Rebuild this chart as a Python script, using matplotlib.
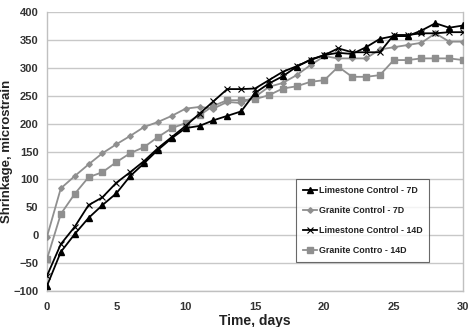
import matplotlib
matplotlib.use("Agg")
import matplotlib.pyplot as plt

days = list(range(0, 31))

limestone_7d = [-91, -30, 2, 31, 54, 75, 106, 129, 153, 174, 192, 196, 206, 214, 222,
                255, 272, 285, 302, 315, 323, 327, 325, 337, 352, 357, 357, 367, 380, 372, 376]
granite_7d = [-3, 84, 106, 127, 147, 163, 178, 194, 203, 214, 227, 230, 227, 239, 237,
              248, 266, 273, 287, 305, 321, 317, 317, 317, 333, 337, 341, 345, 362, 347, 347]
limestone_14d = [-73, -16, 15, 54, 68, 94, 113, 133, 156, 176, 196, 218, 240, 262, 262,
                 263, 278, 293, 303, 314, 323, 335, 328, 328, 328, 359, 359, 362, 362, 364, 364]
granite_14d = [-43, 38, 74, 104, 113, 131, 147, 158, 176, 192, 201, 215, 232, 242, 242,
               244, 251, 263, 267, 275, 278, 302, 284, 284, 287, 314, 314, 317, 317, 317, 314]

labels = ["Limestone Control - 7D", "Granite Control - 7D",
          "Limestone Control - 14D", "Granite Contro - 14D"]

plt.rcParams['font.family'] = ['Liberation Sans', 'DejaVu Sans']

fig = plt.figure(figsize=(4.74, 3.27), dpi=100)
ax = fig.add_axes([0.099, 0.110, 0.878, 0.853])

gray = '#8f8f8f'
ax.plot(days, limestone_7d, color='black', lw=1.3, marker='^', ms=4.5, label=labels[0], zorder=4)
ax.plot(days, granite_7d, color=gray, lw=1.3, marker='D', ms=2.8, label=labels[1], zorder=3)
ax.plot(days, limestone_14d, color='black', lw=1.3, marker='x', ms=4, mew=0.8, label=labels[2], zorder=4)
ax.plot(days, granite_14d, color=gray, lw=1.3, marker='s', ms=4.5, label=labels[3], zorder=3)

ax.set_xlim(0, 30)
ax.set_ylim(-100, 400)
ax.set_xticks(range(0, 31, 5))
ax.set_yticks(range(-100, 401, 50))
ax.yaxis.grid(True, color='#c8c8c8', lw=1)
ax.set_axisbelow(True)
ax.spines['top'].set_visible(False)
for s in ['left', 'right', 'bottom']:
    ax.spines[s].set_color('#c0c0c0')
    ax.spines[s].set_linewidth(1)
ax.tick_params(length=0, labelsize=8, colors='#333333')
ax.tick_params(axis='y', pad=6)
ax.tick_params(axis='x', pad=8)
for lab in ax.get_xticklabels() + ax.get_yticklabels():
    lab.set_fontweight('bold')

ax.set_xlabel("Time, days", fontsize=10, fontweight='bold', color='#222222')
ax.xaxis.set_label_coords(0.5, -0.082)
ax.set_ylabel("Shrinkage, microstrain", fontsize=9.5, fontweight='bold', color='#222222')
ax.yaxis.set_label_coords(-0.082, 0.5)

leg = ax.legend(loc='upper left', bbox_to_anchor=(0.599, 0.401),
                prop={'weight': 'bold', 'size': 6.4}, frameon=True, fancybox=False,
                edgecolor='#444444', handlelength=1.6, handletextpad=0.2,
                borderpad=0.75, labelspacing=1.25, borderaxespad=0)
leg.get_frame().set_linewidth(0.8)
for t in leg.get_texts():
    t.set_color('#222222')

fig.savefig("out.png", dpi=100)
